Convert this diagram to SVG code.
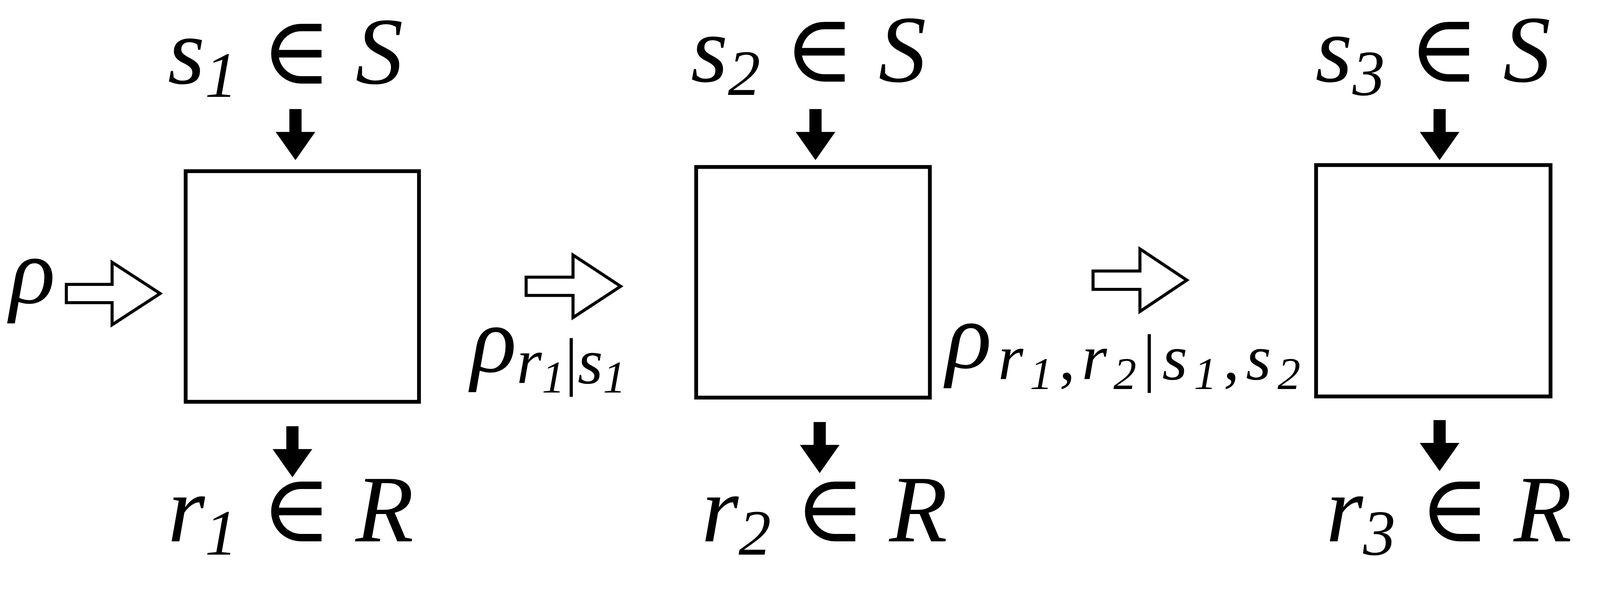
<svg xmlns="http://www.w3.org/2000/svg" width="4172" height="1508" viewBox="0 0 4172 1508">
<style>
.box{fill:#fff;stroke:#000;stroke-width:10}
.hol{fill:#fff;stroke:#000;stroke-width:8;stroke-linejoin:miter}
.blk{fill:#000}
text{font-size:250px;fill:#000}
.i{font-style:italic}
.sub{font-size:170px;font-style:italic}
.ss{font-size:120px;font-style:italic}
.sn{font-size:170px}
</style>
<rect width="4172" height="1508" fill="#fff"/>
<g transform="scale(0.976)">
<g id="box1"><rect class="box" x="487" y="449" width="612" height="605"/></g>
<g id="box2"><rect class="box" x="1826" y="438" width="613" height="605"/></g>
<g id="box3"><rect class="box" x="3452" y="433" width="615" height="607"/></g>
<g id="connectors">
<path class="blk" d="M759 286h32v60h36l-52 74l-52-74h36z"/>
<path class="blk" d="M751 1118h32v60h36l-52 74l-52-74h36z"/>
<path class="blk" d="M2123 286h32v60h36l-52 74l-52-74h36z"/>
<path class="blk" d="M2134 1107h32v60h36l-52 74l-52-74h36z"/>
<path class="blk" d="M3760 286h32v60h36l-52 74l-52-74h36z"/>
<path class="blk" d="M3760 1102h32v60h36l-52 74l-52-74h36z"/>
<path class="hol" d="M174 746h120v-58l126 82l-126 82v-58h-120z"/>
<path class="hol" d="M1380 727h123v-58l125 82l-125 82v-58h-123z"/>
<path class="hol" d="M2867 711h123v-58l123 82l-123 82v-58h-123z"/>
</g>
<g id="labels" font-family="'Liberation Serif','DejaVu Serif','Times New Roman',serif">
<text font-family="'Liberation Serif','DejaVu Serif',serif" x="440" y="219"><tspan class="i">s</tspan><tspan class="sub" dy="35">1</tspan><tspan dy="-35"> ∈ </tspan><tspan class="i">S</tspan></text>
<text font-family="'Liberation Serif','DejaVu Serif',serif" x="1812" y="214"><tspan class="i">s</tspan><tspan class="sub" dy="35">2</tspan><tspan dy="-35"> ∈ </tspan><tspan class="i">S</tspan></text>
<text font-family="'Liberation Serif','DejaVu Serif',serif" x="3450" y="214"><tspan class="i">s</tspan><tspan class="sub" dy="35">3</tspan><tspan dy="-35"> ∈ </tspan><tspan class="i">S</tspan></text>
<text font-family="'Liberation Serif','DejaVu Serif',serif" x="440" y="1420"><tspan class="i">r</tspan><tspan class="sub" dy="35">1</tspan><tspan dy="-35"> ∈ </tspan><tspan class="i">R</tspan></text>
<text font-family="'Liberation Serif','DejaVu Serif',serif" x="1840" y="1420"><tspan class="i">r</tspan><tspan class="sub" dy="35">2</tspan><tspan dy="-35"> ∈ </tspan><tspan class="i">R</tspan></text>
<text font-family="'Liberation Serif','DejaVu Serif',serif" x="3478" y="1420"><tspan class="i">r</tspan><tspan class="sub" dy="35">3</tspan><tspan dy="-35"> ∈ </tspan><tspan class="i">R</tspan></text>
<text font-family="'Liberation Serif','DejaVu Serif',serif" x="25" y="795" class="i">ρ</text>
<text font-family="'Liberation Serif','DejaVu Serif',serif" x="1235" y="975"><tspan class="i">ρ</tspan><tspan class="sub" dy="30">r</tspan><tspan class="ss" dy="25">1</tspan><tspan class="sn" dy="-25">|</tspan><tspan class="sub">s</tspan><tspan class="ss" dy="25">1</tspan></text>
<text font-family="'Liberation Serif','DejaVu Serif',serif" x="2481" y="965" textLength="930" lengthAdjust="spacing"><tspan class="i">ρ</tspan><tspan class="sub" dy="30">r</tspan><tspan class="ss" dy="25">1</tspan><tspan class="sn" dy="-25">,</tspan><tspan class="sub">r</tspan><tspan class="ss" dy="25">2</tspan><tspan class="sn" dy="-25">|</tspan><tspan class="sub">s</tspan><tspan class="ss" dy="25">1</tspan><tspan class="sn" dy="-25">,</tspan><tspan class="sub">s</tspan><tspan class="ss" dy="25">2</tspan></text>
</g>
</g>
</svg>
